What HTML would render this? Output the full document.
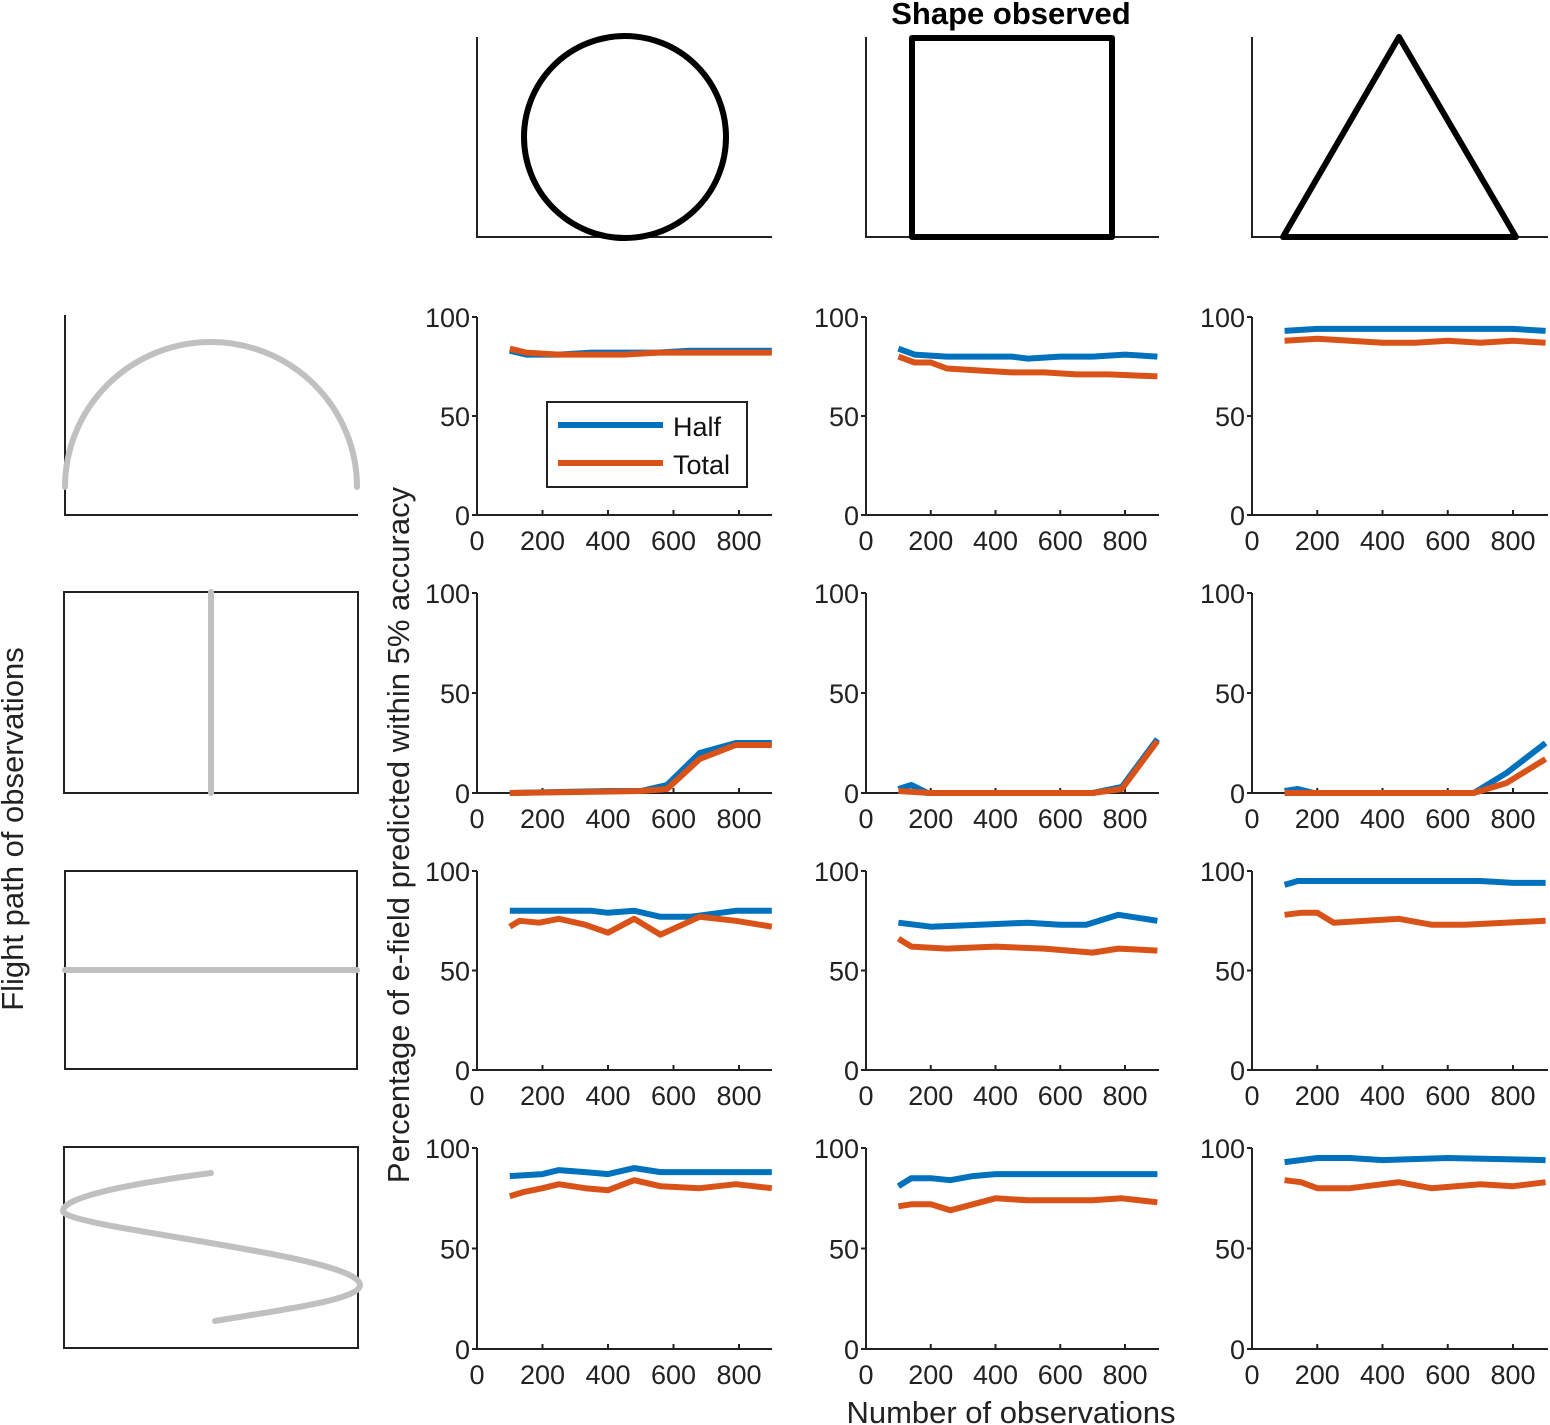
<!DOCTYPE html>
<html><head><meta charset="utf-8"><style>
html,body{margin:0;padding:0;background:#fff;}
svg{display:block;font-family:"Liberation Sans",sans-serif;}
</style></head><body>
<svg id="s" width="1550" height="1425" viewBox="0 0 1550 1425" xmlns="http://www.w3.org/2000/svg">
<rect width="1550" height="1425" fill="#fff"/>
<text x="1011" y="24" font-size="31" font-weight="bold" text-anchor="middle">Shape observed</text>
<text x="1011" y="1423" font-size="31" text-anchor="middle" fill="#222">Number of observations</text>
<text transform="translate(409,835) rotate(-90)" font-size="31" text-anchor="middle" fill="#222">Percentage of e-field predicted within 5% accuracy</text>
<text transform="translate(23,829) rotate(-90)" font-size="31" text-anchor="middle" fill="#222">Flight path of observations</text>
<g stroke="#222" stroke-width="2" fill="none">
<polyline points="477,37 477,237 772,237"/>
<polyline points="866,37 866,237 1159,237"/>
<polyline points="1252,37 1252,237 1548,237"/>
</g>
<g stroke="#000" stroke-width="6" fill="none" stroke-linejoin="round">
<circle cx="625" cy="137" r="101"/>
<rect x="912" y="38" width="200" height="199"/>
<polygon points="1283,237 1516,237 1399,37"/>
</g>
<g stroke="#222" stroke-width="2" fill="none">
<polyline points="65,315 65,515 358,515"/>
<rect x="64" y="592" width="294" height="201"/>
<rect x="65" y="871" width="292" height="198"/>
<rect x="64" y="1147" width="294" height="201"/>
</g>
<g stroke="#c0c0c0" stroke-width="6" fill="none" stroke-linecap="round">
<path d="M65,487 A146,145 0 0 1 357,487"/>
<line x1="211" y1="592" x2="211" y2="793"/>
<line x1="65" y1="970" x2="357" y2="970"/>
<path d="M211,1173 C120,1185 63,1198 63,1211 C63,1228 360,1255 360,1285 C360,1300 280,1310 215,1321"/>
</g>
<g id="plots"></g>
<rect x="547" y="402" width="200" height="85" fill="#fff" stroke="#222" stroke-width="2"/>
<line x1="558" y1="425" x2="663" y2="425" stroke="#0072BD" stroke-width="6"/>
<line x1="558" y1="463" x2="663" y2="463" stroke="#D95319" stroke-width="6"/>
<text x="673" y="436" font-size="27" fill="#111">Half</text>
<text x="673" y="474" font-size="27" fill="#111">Total</text>
</svg>
<script>
var cols=[{x0:477,k:(739-477)/800,xe:772},{x0:866,k:(1125-866)/800,xe:1159},{x0:1252,k:(1513-1252)/800,xe:1548}];
var rows=[[515,317],[793,593],[1070,871],[1349,1148]];
var D=[
[[[100,83],[150,81],[250,81],[350,82],[450,82],[550,82],[650,83],[750,83],[900,83]],[[100,84],[150,82],[250,81],[350,81],[450,81],[550,82],[650,82],[750,82],[900,82]]],
[[[100,84],[150,81],[250,80],[350,80],[450,80],[500,79],[600,80],[700,80],[800,81],[900,80]],[[100,80],[150,77],[200,77],[250,74],[350,73],[450,72],[550,72],[650,71],[750,71],[900,70]]],
[[[100,93],[200,94],[300,94],[400,94],[600,94],[800,94],[900,93]],[[100,88],[200,89],[300,88],[400,87],[500,87],[600,88],[700,87],[800,88],[900,87]]],
[[[100,0],[400,1],[500,1],[580,4],[680,20],[790,25],[900,25]],[[100,0],[500,1],[580,2],[680,17],[790,24],[900,24]]],
[[[100,2],[140,4],[190,0],[700,0],[790,3],[900,27]],[[100,1],[200,0],[700,0],[790,2],[900,26]]],
[[[100,1],[140,2],[190,0],[680,0],[780,10],[900,25]],[[100,0],[680,0],[780,5],[900,17]]],
[[[100,80],[250,80],[350,80],[400,79],[480,80],[560,77],[650,77],[790,80],[900,80]],[[100,72],[130,75],[190,74],[250,76],[330,73],[400,69],[480,76],[560,68],[680,77],[790,75],[900,72]]],
[[[100,74],[200,72],[350,73],[500,74],[600,73],[680,73],[780,78],[900,75]],[[100,66],[140,62],[250,61],[400,62],[550,61],[700,59],[780,61],[900,60]]],
[[[100,93],[140,95],[300,95],[500,95],[700,95],[800,94],[900,94]],[[100,78],[150,79],[200,79],[250,74],[350,75],[450,76],[550,73],[650,73],[900,75]]],
[[[100,86],[200,87],[250,89],[330,88],[400,87],[480,90],[560,88],[680,88],[900,88]],[[100,76],[140,78],[200,80],[250,82],[330,80],[400,79],[480,84],[560,81],[680,80],[790,82],[900,80]]],
[[[100,81],[140,85],[200,85],[260,84],[330,86],[400,87],[600,87],[900,87]],[[100,71],[140,72],[200,72],[260,69],[330,72],[400,75],[500,74],[700,74],[790,75],[900,73]]],
[[[100,93],[200,95],[300,95],[400,94],[600,95],[900,94]],[[100,84],[150,83],[200,80],[300,80],[400,82],[450,83],[550,80],[700,82],[800,81],[900,83]]]
];
var h='';
for(var r=0;r<4;r++)for(var c=0;c<3;c++){
 var C=cols[c],R=rows[r],y0=R[0],y1=R[1];
 function X(v){return C.x0+v*C.k;} function Y(v){return y0+(y1-y0)*v/100;}
 h+='<polyline points="'+C.x0+','+y1+' '+C.x0+','+y0+' '+C.xe+','+y0+'" fill="none" stroke="#222" stroke-width="2"/>';
 [0,50,100].forEach(function(v){var y=Y(v);h+='<line x1="'+(C.x0-5)+'" y1="'+y+'" x2="'+C.x0+'" y2="'+y+'" stroke="#222" stroke-width="2"/><text x="'+(C.x0-7)+'" y="'+(y+10)+'" font-size="27" text-anchor="end" fill="#222">'+v+'</text>';});
 [0,200,400,600,800].forEach(function(v){var x=X(v);h+='<line x1="'+x+'" y1="'+y0+'" x2="'+x+'" y2="'+(y0-5)+'" stroke="#222" stroke-width="2"/><text x="'+x+'" y="'+(y0+35)+'" font-size="27" text-anchor="middle" fill="#222">'+v+'</text>';});
 var d=D[r*3+c];
 ['#0072BD','#D95319'].forEach(function(col,i){h+='<polyline fill="none" stroke="'+col+'" stroke-width="6" stroke-linejoin="round" points="'+d[i].map(function(p){return X(p[0]).toFixed(1)+','+Y(p[1]).toFixed(1);}).join(' ')+'"/>';});
}
document.getElementById('plots').innerHTML=h;
</script>
</body></html>
